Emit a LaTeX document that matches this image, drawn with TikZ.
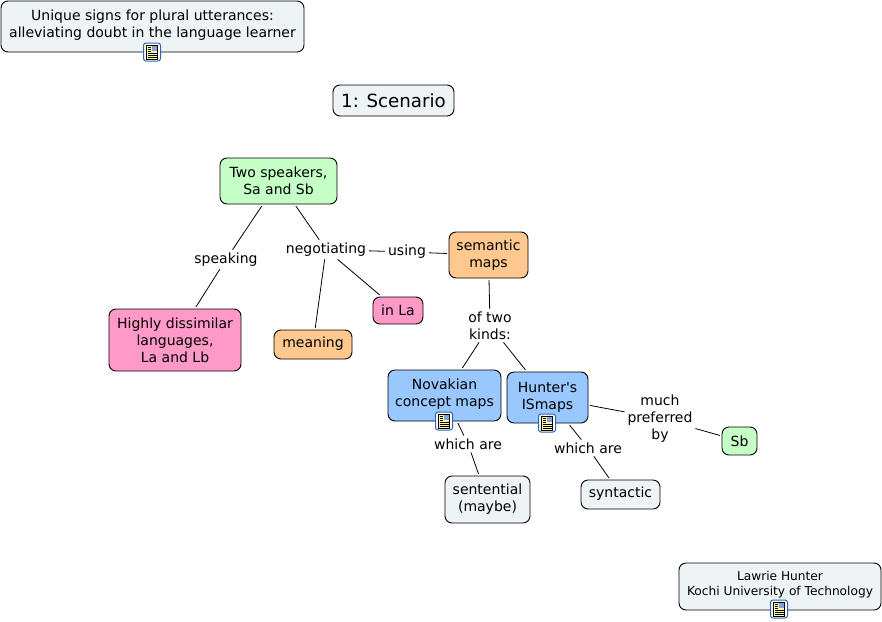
\documentclass[tikz,border=0pt]{standalone}
\usepackage{fontspec}
\setmainfont{DejaVu Sans}
\definecolor{cgrey}{HTML}{EEF3F5}
\definecolor{cgreen}{HTML}{C5FFC5}
\definecolor{cpink}{HTML}{FF99C7}
\definecolor{corange}{HTML}{FFC88F}
\definecolor{cblue}{HTML}{99C7FF}
\definecolor{cicon}{HTML}{2F66B5}
\newcommand{\liftby}[2]{\raisebox{#1}[\height][\depth]{#2}}
\tikzset{
  x=1pt,y=-1pt,
  concept/.style={draw=black,line width=0.9pt,rounded corners=7pt,align=center,inner sep=0pt,outer sep=2pt,
    font=\fontsize{14}{17}\selectfont},
  linklabel/.style={align=center,inner sep=1pt,outer sep=2pt,font=\fontsize{14}{17}\selectfont},
  link/.style={draw=black,line width=0.8pt},
  pics/resicon/.style={code={
    \draw[cicon,line width=1pt,fill=white,rounded corners=2.5pt] (-8.5,-9) rectangle (8.5,9);
    \draw[black,line width=0.6pt,fill=yellow!35] (-5.5,-7) rectangle (5.5,7);
    \fill[cicon!60] (0,-6) rectangle (5,-1);
    \foreach \yy in {-5,-3,-1}{\draw[black,line width=0.7pt] (-4.5,\yy) -- (-1,\yy);}
    \foreach \yy in {1.5,3.5,5.5}{\draw[black,line width=0.7pt] (-4.5,\yy) -- (4.5,\yy);}
  }}
}
\begin{document}
\begin{tikzpicture}
\useasboundingbox (0,0) rectangle (882,621);
\fill[white] (0,0) rectangle (882,621);
% concepts
\node[concept,fill=cgrey,minimum width=303pt,minimum height=51pt,outer sep=0pt] (title) at (152.5,26.5) {\liftby{1pt}{Unique signs for plural utterances:}\\\liftby{1pt}{alleviating doubt in the language learner}};
\node[concept,fill=cgrey,minimum width=121pt,minimum height=31pt,outer sep=0pt,font=\fontsize{18.2}{21}\selectfont] (scen) at (393.5,100.5) {1: Scenario};
\node[concept,fill=cgreen,minimum width=117pt,minimum height=46pt] (two) at (278.5,181) {Two speakers,\\Sa and Sb};
\node[concept,fill=cpink,minimum width=132pt,minimum height=62pt] (high) at (175,340) {Highly dissimilar\\languages,\\La and Lb};
\node[concept,fill=corange,minimum width=78pt,minimum height=29pt] (mean) at (313,344.5) {\liftby{1pt}{meaning}};
\node[concept,fill=cpink,minimum width=50pt,minimum height=27pt] (inla) at (398,310.5) {in La};
\node[concept,fill=corange,minimum width=79pt,minimum height=46pt] (sem) at (488.5,255) {semantic\\maps};
\node[concept,fill=cblue,minimum width=113pt,minimum height=51pt] (nov) at (444.5,395.5) {\liftby{1pt}{Novakian}\\\liftby{1pt}{concept maps}};
\node[concept,fill=cblue,minimum width=81pt,minimum height=51pt] (hun) at (547.5,397.5) {\liftby{0.5pt}{Hunter\textquotesingle s}\\\liftby{0.5pt}{ISmaps}};
\node[concept,fill=cgreen,minimum width=35pt,minimum height=28pt] (sb) at (739.5,441) {Sb};
\node[concept,fill=cgrey,minimum width=85pt,minimum height=47pt] (sent) at (487.5,499.5) {sentential\\(maybe)};
\node[concept,fill=cgrey,minimum width=79pt,minimum height=29pt] (syn) at (620.5,494.5) {\liftby{1pt}{syntactic}};
\node[concept,fill=cgrey,minimum width=202pt,minimum height=47pt,outer sep=0pt,font=\fontsize{12.2}{15}\selectfont] (auth) at (780,586.5) {\liftby{2pt}{Lawrie Hunter}\\\liftby{2pt}{Kochi University of Technology}};
% link labels
\node[linklabel] (speak) at (226,259.5) {speaking};
\node[linklabel] (neg) at (326,249.5) {negotiating};
\node[linklabel] (use) at (407,252) {using};
\node[linklabel] (kinds) at (490,325.5) {of two\\kinds:};
\node[linklabel] (wh1) at (468,444) {which are};
\node[linklabel] (wh2) at (588,448) {which are};
\node[linklabel] (pref) at (660,418.5) {much\\preferred\\by};
% connectors
\draw[link] (two) -- (speak);
\draw[link] (speak) -- (high);
\draw[link] (two) -- (neg);
\draw[link] (neg) -- (mean);
\draw[link] (neg) -- (inla);
\draw[link] (neg) -- (use);
\draw[link] (use) -- (sem);
\draw[link] (sem) -- (kinds);
\draw[link] (kinds) -- (nov);
\draw[link] (kinds) -- (hun);
\draw[link] (nov) -- (wh1);
\draw[link] (wh1) -- (sent);
\draw[link] (hun) -- (wh2);
\draw[link] (wh2) -- (syn);
\draw[link] (hun) -- (pref);
\draw[link] (pref) -- (sb);
% resource icons
\pic at (152,52) {resicon};
\pic at (444,421) {resicon};
\pic at (547,423) {resicon};
\pic at (779,609) {resicon};
\end{tikzpicture}
\end{document}
